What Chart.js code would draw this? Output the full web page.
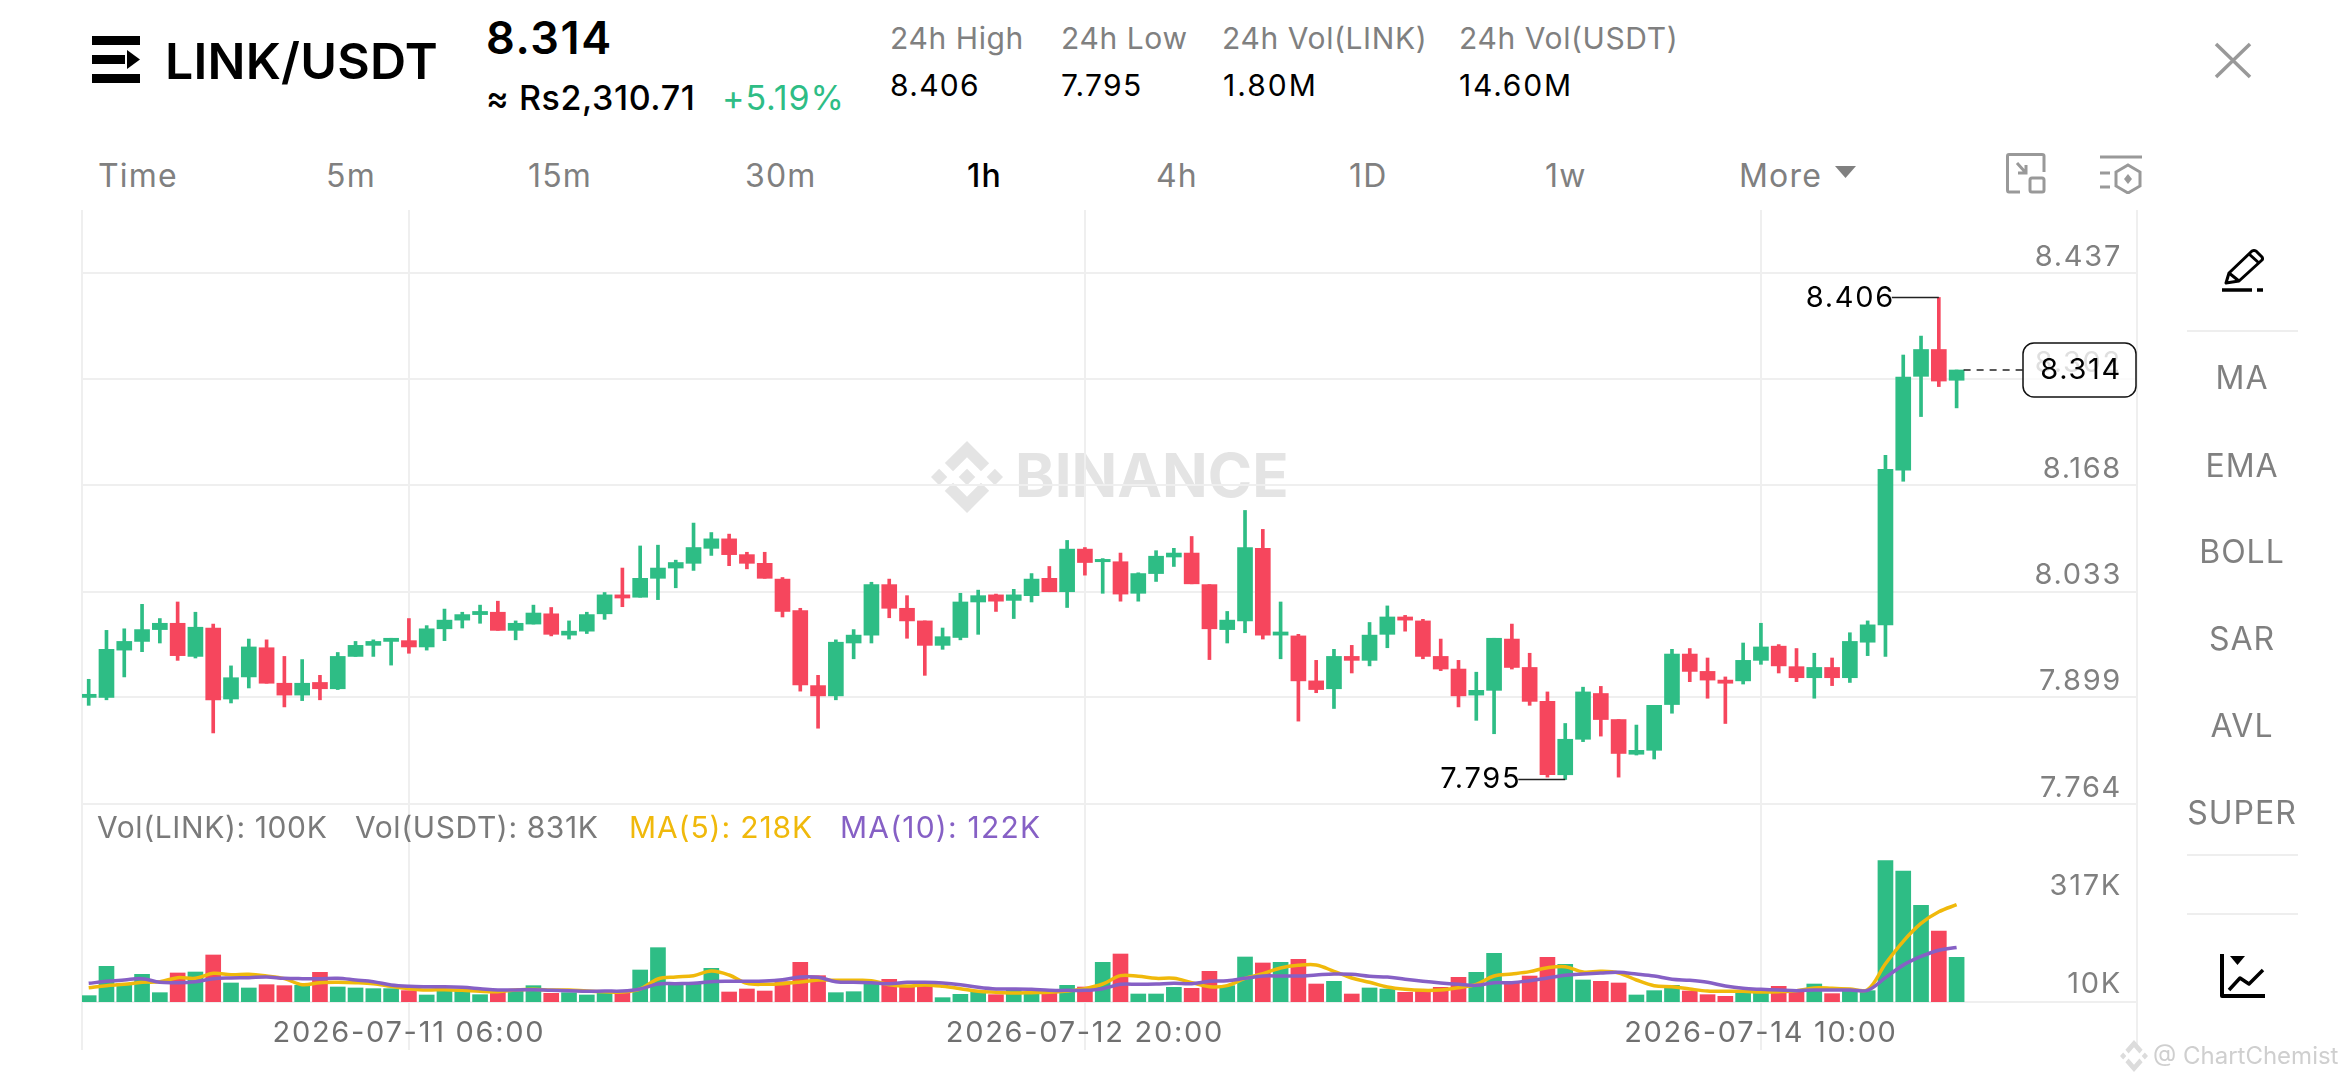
<!DOCTYPE html>
<html>
<head>
<meta charset="utf-8">
<title>LINK/USDT</title>
<script src="https://cdn.jsdelivr.net/npm/chart.js@4"></script>
<style>
  html, body { margin: 0; padding: 0; background: #fff; width: 2340px; height: 1080px; overflow: hidden; }
  body { position: relative; font-family: Inter, "Noto Sans", sans-serif; color: #000; }
  .t { position: absolute; white-space: nowrap; line-height: 1; transform: translateY(-50%); }
  .gray { color: #808080; letter-spacing: 0.6px; }
  .val { letter-spacing: 1.3px; }
  .legend { font-size: 30px; letter-spacing: 0.6px; top: 827px; }
  .tab { font-size: 32px; color: #808080; top: 176px; letter-spacing: 1.2px; }
  .side { font-size: 32px; color: #808080; left: 2242px; letter-spacing: 1px; transform: translate(-50%, -50%); }
  .rule { position: absolute; left: 2187px; width: 111px; height: 2px; background: #eee; }
  svg { position: absolute; }
  #chart { position: absolute; left: 0; top: 0; }
</style>
</head>
<body>

<!-- header -->
<svg style="left:92px;top:36px" width="48" height="47" viewBox="0 0 48 47">
  <rect x="0" y="0" width="48" height="9"/><rect x="0" y="19" width="33" height="9"/>
  <path d="M35 14 L48 23.5 L35 33 Z"/><rect x="0" y="38" width="48" height="9"/>
</svg>
<div class="t" style="left:165px;top:61px;font-size:50px;font-weight:600;letter-spacing:0.2px">LINK/USDT</div>
<div class="t" style="left:486px;top:37px;font-size:45px;font-weight:600;letter-spacing:1.6px">8.314</div>
<div class="t" style="left:486px;top:98px;font-size:34px;font-weight:500;letter-spacing:0.6px">≈ Rs2,310.71</div>
<div class="t" style="left:722px;top:98px;font-size:34px;color:#2ebd85;letter-spacing:0.9px">+5.19%</div>

<div class="t gray" style="left:890px;top:38px;font-size:30px">24h High</div>
<div class="t val" style="left:890px;top:85px;font-size:30px">8.406</div>
<div class="t gray" style="left:1061px;top:38px;font-size:30px">24h Low</div>
<div class="t val" style="left:1061px;top:85px;font-size:30px">7.795</div>
<div class="t gray" style="left:1222px;top:38px;font-size:30px">24h Vol(LINK)</div>
<div class="t val" style="left:1223px;top:85px;font-size:30px;letter-spacing:2px">1.80M</div>
<div class="t gray" style="left:1459px;top:38px;font-size:30px">24h Vol(USDT)</div>
<div class="t val" style="left:1459px;top:85px;font-size:30px;letter-spacing:1.8px">14.60M</div>

<svg style="left:2214px;top:42px" width="38" height="37" viewBox="0 0 38 37">
  <path d="M2 2 L36 35 M36 2 L2 35" stroke="#999" stroke-width="3.5" fill="none"/>
</svg>

<!-- interval tabs -->
<div class="t tab" style="left:98px">Time</div>
<div class="t tab" style="left:326px">5m</div>
<div class="t tab" style="left:528px">15m</div>
<div class="t tab" style="left:745px">30m</div>
<div class="t tab" style="left:967px;color:#000;font-weight:500">1h</div>
<div class="t tab" style="left:1156px">4h</div>
<div class="t tab" style="left:1349px">1D</div>
<div class="t tab" style="left:1545px">1w</div>
<div class="t tab" style="left:1739px">More</div>
<svg style="left:1835px;top:166px" width="21" height="12" viewBox="0 0 21 12"><path d="M0 0 H21 L10.5 12 Z" fill="#808080"/></svg>
<svg style="left:2006px;top:153px" width="40" height="41" viewBox="0 0 40 41" fill="none" stroke="#999" stroke-width="3">
  <path d="M14 39 H3 Q1.5 39 1.5 37 V3 Q1.5 1.5 3 1.5 H36 Q38 1.5 38 3 V19"/>
  <rect x="24" y="25" width="14" height="14" rx="2"/>
  <path d="M11 10 L20 20 M20 12 V20 H12"/>
</svg>
<svg style="left:2100px;top:155px" width="42" height="39" viewBox="0 0 42 39" fill="none" stroke="#999" stroke-width="3">
  <path d="M0 2 H42 M0 18 H10 M0 32 H10"/>
  <path d="M28 10 L40 17 V31 L28 38 L16 31 V17 Z"/>
  <path d="M28 19 L32 24 L28 29 L24 24 Z" fill="#999" stroke="none"/>
</svg>

<!-- watermark under the chart -->
<svg style="left:931px;top:441px" width="72" height="72" viewBox="0 0 126.61 126.61" fill="#e4e4e4">
  <path d="M38.73 53.2l24.59-24.58 24.6 24.6 14.3-14.31L63.32 0 24.42 38.9zM0 63.31l14.3-14.31 14.31 14.31-14.31 14.3zM38.73 73.41l24.59 24.59 24.6-24.6 14.31 14.29-38.9 38.91-38.91-38.88-.02-.02zM98 63.31l14.3-14.3 14.31 14.3-14.31 14.31zM77.83 63.3L63.32 48.78 52.59 59.51l-1.24 1.23-2.54 2.54 14.51 14.5 14.51-14.47z"/>
</svg>
<div class="t" style="left:1015px;top:475px;font-size:60px;font-weight:700;color:#e4e4e4">BINANCE</div>

<canvas id="chart" width="2340" height="1080"></canvas>

<!-- volume legend -->
<div class="t legend" style="left:97px;color:#7a7a7a">Vol(LINK): 100K</div>
<div class="t legend" style="left:355px;color:#7a7a7a">Vol(USDT): 831K</div>
<div class="t legend" style="left:629px;color:#f0b90b;letter-spacing:0.9px">MA(5): 218K</div>
<div class="t legend" style="left:840px;color:#8660c5;letter-spacing:1.2px">MA(10): 122K</div>

<!-- side panel -->
<svg style="left:2222px;top:248px" width="42" height="44" viewBox="0 0 42 44" fill="none" stroke="#000" stroke-width="3" stroke-linejoin="round">
  <path d="M7 25 L30 3 Q32 2 34 3 L40 9 Q41 11 40 12 L17 33 L4 35 Z"/>
  <path d="M27 6 L37 15 M7 25 L17 33"/>
  <path d="M0 42 H30 M35 42 H41" stroke-width="3.5"/>
</svg>
<div class="rule" style="top:330px"></div>
<div class="t side" style="top:378px">MA</div>
<div class="t side" style="top:466px">EMA</div>
<div class="t side" style="top:552px">BOLL</div>
<div class="t side" style="top:639px">SAR</div>
<div class="t side" style="top:726px">AVL</div>
<div class="t side" style="top:813px">SUPER</div>
<div class="rule" style="top:854px"></div>
<div class="rule" style="top:913px"></div>
<svg style="left:2220px;top:954px" width="45" height="44" viewBox="0 0 45 44" fill="none" stroke="#000" stroke-width="4" stroke-linejoin="round">
  <path d="M2 0 V42 H45"/>
  <path d="M9 36 L20 24 L29 30 L43 16" stroke-width="3.5"/>
  <path d="M10 2 H25 L17.5 11 Z" fill="#000" stroke="none"/>
</svg>

<svg style="left:2120px;top:1040px" width="28" height="32" viewBox="0 0 126.61 126.61" fill="#dcdcdc" preserveAspectRatio="none">
  <path d="M38.73 53.2l24.59-24.58 24.6 24.6 14.3-14.31L63.32 0 24.42 38.9zM0 63.31l14.3-14.31 14.31 14.31-14.31 14.3zM38.73 73.41l24.59 24.59 24.6-24.6 14.31 14.29-38.9 38.91-38.91-38.88-.02-.02zM98 63.31l14.3-14.3 14.31 14.3-14.31 14.31z"/>
</svg>
<div class="t" style="left:2153px;top:1056px;font-size:24px;color:#cfcfcf">@ ChartChemist</div>

<script>
// 1h candles
const opens = [
  7.899, 7.899, 7.959, 7.970, 7.985, 7.993, 7.951, 7.987, 7.897, 7.925,
  7.962, 7.917, 7.902, 7.918, 7.910, 7.951, 7.965, 7.970, 7.971, 7.963,
  7.986, 7.997, 8.004, 8.007, 7.984, 7.992, 8.005, 7.978, 7.983, 8.005,
  8.029, 8.026, 8.050, 8.063, 8.069, 8.088, 8.100, 8.080, 8.069, 8.049,
  8.009, 7.914, 7.901, 7.968, 7.978, 8.042, 8.012, 7.996, 7.965, 7.975,
  8.020, 8.029, 8.022, 8.028, 8.050, 8.033, 8.087, 8.071, 8.071, 8.031,
  8.056, 8.077, 8.082, 8.042, 7.985, 7.996, 8.088, 7.978, 7.977, 7.920,
  7.910, 7.951, 7.946, 7.979, 8.001, 7.996, 7.951, 7.935, 7.902, 7.908,
  7.973, 7.937, 7.894, 7.801, 7.846, 7.904, 7.871, 7.827, 7.832, 7.890,
  7.954, 7.932, 7.921, 7.920, 7.946, 7.964, 7.938, 7.924, 7.937, 7.924,
  7.969, 7.991, 8.187, 8.306, 8.340, 8.301
];
const highs = [
  7.922, 7.984, 7.986, 8.017, 7.999, 8.020, 8.007, 7.992, 7.939, 7.973,
  7.972, 7.951, 7.947, 7.927, 7.956, 7.970, 7.972, 7.974, 7.999, 7.990,
  8.011, 8.007, 8.016, 8.021, 7.996, 8.016, 8.013, 7.996, 8.007, 8.032,
  8.063, 8.091, 8.092, 8.073, 8.120, 8.108, 8.106, 8.083, 8.083, 8.051,
  8.012, 7.927, 7.972, 7.985, 8.045, 8.049, 8.028, 7.996, 7.987, 8.031,
  8.035, 8.030, 8.036, 8.056, 8.065, 8.098, 8.089, 8.075, 8.082, 8.057,
  8.085, 8.088, 8.103, 8.042, 8.008, 8.136, 8.112, 8.020, 7.979, 7.946,
  7.960, 7.965, 7.994, 8.015, 8.003, 7.998, 7.973, 7.946, 7.931, 7.974,
  7.992, 7.955, 7.906, 7.866, 7.912, 7.913, 7.871, 7.864, 7.889, 7.960,
  7.961, 7.949, 7.925, 7.968, 7.993, 7.966, 7.961, 7.955, 7.949, 7.981,
  7.996, 8.206, 8.333, 8.357, 8.406, 8.314
];
const lows = [
  7.889, 7.896, 7.925, 7.957, 7.968, 7.946, 7.949, 7.854, 7.892, 7.911,
  7.917, 7.887, 7.895, 7.896, 7.909, 7.951, 7.951, 7.940, 7.955, 7.959,
  7.971, 7.987, 7.993, 7.984, 7.972, 7.992, 7.977, 7.973, 7.980, 7.998,
  8.014, 8.026, 8.023, 8.038, 8.060, 8.079, 8.066, 8.062, 8.050, 8.001,
  7.907, 7.860, 7.896, 7.948, 7.968, 8.000, 7.974, 7.927, 7.960, 7.972,
  7.979, 8.008, 7.999, 8.020, 8.033, 8.013, 8.054, 8.031, 8.021, 8.021,
  8.046, 8.065, 8.043, 7.947, 7.968, 7.981, 7.973, 7.948, 7.869, 7.905,
  7.885, 7.930, 7.939, 7.962, 7.983, 7.948, 7.933, 7.887, 7.870, 7.853,
  7.935, 7.889, 7.798, 7.795, 7.843, 7.850, 7.798, 7.826, 7.821, 7.879,
  7.919, 7.898, 7.866, 7.916, 7.941, 7.930, 7.919, 7.898, 7.914, 7.918,
  7.952, 7.951, 8.173, 8.255, 8.293, 8.266
];
const closes = [
  7.903, 7.960, 7.970, 7.985, 7.993, 7.952, 7.988, 7.896, 7.924, 7.963,
  7.917, 7.902, 7.917, 7.910, 7.951, 7.965, 7.970, 7.974, 7.963, 7.986,
  7.997, 8.004, 8.008, 7.984, 7.993, 8.006, 7.979, 7.983, 8.004, 8.029,
  8.025, 8.050, 8.063, 8.070, 8.089, 8.100, 8.080, 8.069, 8.050, 8.008,
  7.915, 7.901, 7.969, 7.978, 8.042, 8.012, 7.996, 7.965, 7.976, 8.020,
  8.028, 8.021, 8.029, 8.049, 8.033, 8.087, 8.070, 8.074, 8.030, 8.056,
  8.078, 8.082, 8.043, 7.986, 7.997, 8.089, 7.978, 7.982, 7.920, 7.909,
  7.951, 7.946, 7.978, 8.001, 7.997, 7.951, 7.935, 7.901, 7.908, 7.974,
  7.937, 7.894, 7.801, 7.846, 7.906, 7.871, 7.828, 7.832, 7.889, 7.954,
  7.932, 7.921, 7.917, 7.946, 7.963, 7.939, 7.924, 7.937, 7.924, 7.970,
  7.991, 8.188, 8.305, 8.340, 8.300, 8.314
];

// volume in LINK, thousands
const volumes = [
  14.2, 79.9, 41.8, 62.0, 20.9, 65.0, 67.2, 105.3, 42.6, 31.4,
  38.8, 36.6, 37.3, 66.5, 33.6, 31.4, 29.9, 29.9, 25.4, 15.7,
  26.9, 26.9, 16.4, 23.9, 26.9, 36.6, 19.4, 20.9, 15.7, 23.1,
  20.9, 71.7, 121.7, 37.3, 41.8, 75.4, 22.4, 29.1, 24.6, 45.5,
  88.9, 59.0, 20.9, 23.1, 46.3, 50.8, 36.6, 41.8, 9.7, 17.2,
  24.6, 16.4, 26.1, 18.7, 19.4, 37.3, 33.6, 88.9, 107.5, 17.9,
  17.9, 32.9, 30.6, 68.7, 36.6, 100.8, 87.4, 88.9, 95.6, 40.3,
  46.3, 17.9, 31.4, 29.1, 21.7, 26.9, 32.9, 55.3, 66.5, 109.0,
  43.3, 58.2, 100.1, 84.4, 49.3, 46.3, 42.6, 15.7, 25.4, 37.3,
  24.6, 16.4, 12.7, 23.9, 21.7, 35.1, 23.9, 40.3, 18.7, 26.9,
  25.4, 317.0, 293.4, 216.5, 159.0, 100.0
];
const ma5 = [
  32.1, 36.6, 39.6, 44.1, 45.5, 54.5, 53.0, 64.2, 61.2, 62.0,
  58.2, 52.3, 38.8, 43.3, 44.1, 43.3, 41.1, 35.1, 29.9, 26.9,
  27.6, 26.1, 23.9, 23.1, 26.9, 28.4, 26.9, 26.9, 24.6, 23.1,
  22.4, 29.1, 51.5, 56.0, 59.0, 69.4, 60.5, 41.8, 39.6, 41.1,
  44.8, 49.3, 48.5, 48.5, 47.8, 38.8, 35.8, 38.1, 35.1, 29.9,
  23.9, 21.7, 20.2, 20.9, 21.7, 24.6, 29.9, 40.3, 59.0, 57.5,
  53.0, 53.0, 43.3, 34.3, 36.6, 53.0, 63.5, 76.2, 82.1, 82.9,
  68.7, 53.8, 44.1, 33.6, 28.4, 26.1, 26.9, 32.1, 39.6, 58.2,
  62.7, 68.0, 76.9, 79.2, 67.2, 68.7, 65.0, 49.3, 36.6, 34.3,
  29.1, 24.6, 23.9, 23.9, 22.4, 23.1, 25.4, 31.4, 30.6, 29.1,
  27.6, 85.6, 136.0, 176.0, 202.0, 218.0
];
const ma10 = [
  41.8, 46.3, 49.3, 52.3, 44.1, 43.3, 45.5, 52.3, 53.8, 54.5,
  56.0, 53.0, 52.3, 52.3, 53.0, 49.3, 45.5, 38.1, 35.1, 34.3,
  34.3, 32.9, 29.9, 26.9, 26.9, 27.6, 26.1, 25.4, 23.9, 24.6,
  24.6, 29.1, 40.3, 41.1, 41.8, 45.5, 46.3, 46.3, 47.0, 50.0,
  56.0, 55.3, 45.5, 44.1, 43.3, 41.1, 44.1, 44.1, 42.6, 38.8,
  32.9, 29.1, 29.1, 28.4, 26.1, 26.1, 26.1, 29.9, 39.6, 39.6,
  40.3, 41.8, 41.1, 46.3, 47.8, 53.0, 58.2, 58.2, 58.2, 60.5,
  62.7, 62.0, 57.5, 56.0, 50.8, 46.3, 42.6, 39.6, 37.3, 43.3,
  43.3, 47.8, 53.8, 59.7, 62.7, 65.0, 66.5, 62.7, 58.2, 50.8,
  48.5, 44.1, 35.8, 30.6, 28.4, 26.9, 25.4, 26.9, 26.9, 26.9,
  26.1, 54.5, 82.6, 102.0, 116.0, 122.0
];

// axes
const priceTicks = [8.437, 8.302, 8.168, 8.033, 7.899, 7.764];
const volTicks = [317, 10];
const volTickLabels = ["317K", "10K"];
const timeTickIndex = [18, 56, 94];
const timeTickLabels = ["2026-07-11 06:00", "2026-07-12 20:00", "2026-07-14 10:00"];

const lastPrice = 8.314;
const highMark = 8.406;
const lowMark = 7.795;

const GREEN = "#2ebd85";
const RED = "#f6465d";
const GRID = "#efefef";
const AXIS_FONT = { family: "Inter", size: 29 };

const indexes = closes.map((c, i) => i);
const candleColors = indexes.map((i) => (closes[i] >= opens[i] ? GREEN : RED));

// the x range runs past the last candle to leave room for the price labels
const xMin = -0.376;
const xMax = 115.14;

// price labels, callouts and volume labels
const overlayPlugin = {
  id: "overlay",
  beforeDraw(chart) {
    chart.ctx.letterSpacing = "1.7px";
  },
  afterDatasetsDraw(chart) {
    const { ctx, scales } = chart;
    const x = scales.x;
    const y = scales.y;
    const yVol = scales.yVol;

    ctx.save();
    ctx.font = "29px Inter";
    ctx.textBaseline = "middle";

    // volume axis labels sit inside the pane
    ctx.fillStyle = "#808080";
    ctx.textAlign = "right";
    ctx.fillText(volTickLabels[0], 2122, yVol.getPixelForValue(volTicks[0]) + 26);
    ctx.fillText(volTickLabels[1], 2122, yVol.getPixelForValue(volTicks[1]) - 13);

    // high and low callouts
    ctx.strokeStyle = "#222";
    ctx.lineWidth = 1.5;
    ctx.fillStyle = "#000";
    const highX = x.getPixelForValue(highs.indexOf(highMark));
    const highY = y.getPixelForValue(highMark);
    ctx.beginPath();
    ctx.moveTo(highX, highY);
    ctx.lineTo(highX - 47, highY);
    ctx.stroke();
    ctx.fillText(highMark.toFixed(3), highX - 44, highY + 1);

    const lowX = x.getPixelForValue(lows.indexOf(lowMark));
    const lowY = y.getPixelForValue(lowMark);
    ctx.beginPath();
    ctx.moveTo(lowX, lowY);
    ctx.lineTo(lowX - 47, lowY);
    ctx.stroke();
    ctx.fillText(lowMark.toFixed(3), lowX - 44, lowY);

    // last price line and tag
    const lastY = y.getPixelForValue(lastPrice);
    const lastX = x.getPixelForValue(closes.length - 1);
    ctx.setLineDash([7, 6]);
    ctx.beginPath();
    ctx.moveTo(lastX + 7, lastY);
    ctx.lineTo(2023, lastY);
    ctx.stroke();
    ctx.setLineDash([]);

    ctx.beginPath();
    ctx.roundRect(2023, lastY - 27, 113, 54, 11);
    ctx.fillStyle = "rgba(255,255,255,0.75)";
    ctx.fill();
    ctx.strokeStyle = "#111";
    ctx.stroke();
    ctx.fillStyle = "#000";
    ctx.fillText(lastPrice.toFixed(3), 2122, lastY);
    ctx.restore();
  },
};

new Chart(document.getElementById("chart"), {
  type: "bar",
  plugins: [overlayPlugin],
  data: {
    datasets: [
      {
        label: "MA5",
        type: "line",
        yAxisID: "yVol",
        order: 1,
        data: indexes.map((i) => ({ x: i, y: ma5[i] })),
        borderColor: "#f0b90b",
        borderWidth: 3.5,
        pointRadius: 0,
        tension: 0.35,
      },
      {
        label: "MA10",
        type: "line",
        yAxisID: "yVol",
        order: 0,
        data: indexes.map((i) => ({ x: i, y: ma10[i] })),
        borderColor: "#8660c5",
        borderWidth: 3.5,
        pointRadius: 0,
        tension: 0.35,
      },
      {
        label: "Volume",
        yAxisID: "yVol",
        order: 2,
        data: indexes.map((i) => ({ x: i, y: volumes[i] })),
        backgroundColor: candleColors,
        barThickness: 15,
        grouped: false,
      },
      {
        label: "Body",
        yAxisID: "y",
        order: 3,
        data: indexes.map((i) => ({ x: i, y: [opens[i], closes[i]] })),
        backgroundColor: candleColors,
        barThickness: 15,
        borderSkipped: false,
        grouped: false,
      },
      {
        label: "Wick",
        yAxisID: "y",
        order: 4,
        data: indexes.map((i) => ({ x: i, y: [lows[i], highs[i]] })),
        backgroundColor: candleColors,
        barThickness: 3,
        borderSkipped: false,
        grouped: false,
      },
    ],
  },
  options: {
    responsive: false,
    animation: false,
    devicePixelRatio: 1,
    layout: { padding: { left: 82, right: 203, top: 210, bottom: 30 } },
    plugins: { legend: { display: false }, tooltip: { enabled: false } },
    scales: {
      x: {
        type: "linear",
        position: "bottom",
        min: xMin,
        max: xMax,
        offset: false,
        afterBuildTicks(scale) {
          scale.ticks = [xMin, ...timeTickIndex, xMax].map((value) => ({ value }));
        },
        afterFit(scale) {
          scale.height = 48;
        },
        grid: { offset: false, color: GRID, lineWidth: 2, tickLength: 48 },
        border: { color: GRID, width: 2 },
        ticks: {
          autoSkip: false,
          maxRotation: 0,
          padding: -34,
          color: "#707070",
          font: AXIS_FONT,
          callback(value) {
            const k = timeTickIndex.indexOf(value);
            return k < 0 ? "" : timeTickLabels[k];
          },
        },
      },
      y: {
        position: "right",
        min: 7.513,
        max: 8.5168,
        afterBuildTicks(scale) {
          scale.ticks = priceTicks.map((value) => ({ value }));
        },
        afterFit(scale) {
          scale.width = 0;
        },
        grid: { color: GRID, lineWidth: 2, drawTicks: false },
        border: { display: false },
        ticks: {
          mirror: true,
          padding: -15,
          labelOffset: -16,
          color: "#808080",
          font: AXIS_FONT,
          callback: (value) => value.toFixed(3),
        },
      },
      yVol: {
        position: "right",
        min: 0,
        max: 1774,
        afterFit(scale) {
          scale.width = 0;
        },
        grid: { display: false },
        border: { display: false },
        ticks: { display: false },
      },
    },
  },
});
</script>
</body>
</html>
